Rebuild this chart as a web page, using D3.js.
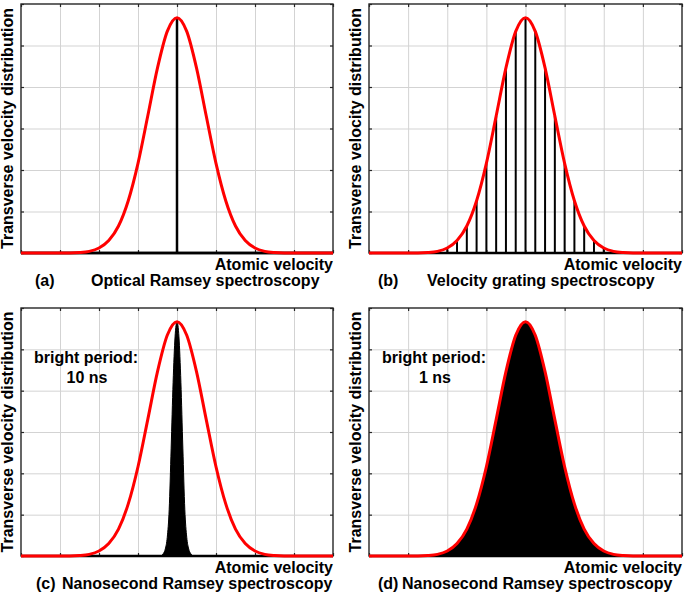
<!doctype html>
<html>
<head>
<meta charset="utf-8">
<script src="https://cdnjs.cloudflare.com/ajax/libs/d3/7.8.5/d3.min.js"></script>
<style>
  body{margin:0;background:#fff}
  svg{display:block;background:white}
  text{font-family:Arial,"Liberation Sans",sans-serif;font-weight:bold;fill:#000}
</style>
</head>
<body>
<svg width="685" height="595"></svg>
<script>
// atomic velocity samples (grid units) and the transverse velocity distribution
const velocity = [-4,-3.75,-3.5,-3.25,-3,-2.75,-2.5,-2.25,-2,-1.75,-1.5,-1.25,-1,-0.75,-0.5,-0.25,0,
                  0.25,0.5,0.75,1,1.25,1.5,1.75,2,2.25,2.5,2.75,3,3.25,3.5,3.75,4];
const distribution = [0,0,0,0,0,0,0.01,0.04,0.12,0.30,0.65,1.26,2.16,3.30,4.46,5.34,5.67,
                      5.34,4.46,3.30,2.16,1.26,0.65,0.30,0.12,0.04,0.01,0,0,0,0,0,0];

// (a) single velocity class
const ramseyX = [-4, 0, 0, 0, 4];
const ramseyY = [0, 0, 5.67, 0, 0];

// (c) narrow velocity class, 10 ns bright period
const narrowX = [-0.45,-0.4,-0.35,-0.3,-0.25,-0.2,-0.15,-0.1,-0.05,0,0.05,0.1,0.15,0.2,0.25,0.3,0.35,0.4,0.45];
const narrowY = [0,0.01,0.06,0.17,0.45,1.13,2.61,4.20,5.30,5.67,5.30,4.20,2.61,1.13,0.45,0.17,0.06,0.01,0];

const xTicks = [-4,-3,-2,-1,0,1,2,3,4];
const yTicks = [0,1,2,3,4,5,6];

const panelLabels = ["(a)", "(b)", "(c)", "(d)"];
const panelTitles = ["Optical Ramsey spectroscopy", "Velocity grating spectroscopy",
                     "Nanosecond Ramsey spectroscopy", "Nanosecond Ramsey spectroscopy"];
const periodLabels = [null, null, "10 ns", "1 ns"];

const svg = d3.select("svg");

const boxes = [
  {x0:21,  x1:333, y0:4,   y1:253, lab:35,  tit:91},
  {x0:369, x1:682, y0:4,   y1:253, lab:378, tit:427},
  {x0:21,  x1:333, y0:308, y1:556, lab:36,  tit:62},
  {x0:369, x1:682, y0:308, y1:556, lab:378, tit:402}
];

boxes.forEach((b, i) => {
  const g = svg.append("g");
  const x = d3.scaleLinear().domain([-4, 4]).range([b.x0, b.x1]);
  const y = d3.scaleLinear().domain([0, 6]).range([b.y1, b.y0]);
  const w = b.x1 - b.x0, h = b.y1 - b.y0;

  // grid
  const gx = g.append("g").attr("transform", `translate(0,${b.y1})`)
    .call(d3.axisBottom(x).tickValues(xTicks.slice(1, -1)).tickSize(-h).tickFormat(""));
  const gy = g.append("g").attr("transform", `translate(${b.x0},0)`)
    .call(d3.axisLeft(y).tickValues(yTicks.slice(1, -1)).tickSize(-w).tickFormat(""));
  [gx, gy].forEach(s => {
    s.select(".domain").remove();
    s.selectAll("line").attr("stroke", "#d3d3d3").attr("stroke-width", 1);
  });

  // inward ticks on all four sides
  const tk = [
    [d3.axisBottom(x).tickValues(xTicks), `translate(0,${b.y1})`],
    [d3.axisTop(x).tickValues(xTicks), `translate(0,${b.y0})`],
    [d3.axisLeft(y).tickValues(yTicks), `translate(${b.x0},0)`],
    [d3.axisRight(y).tickValues(yTicks), `translate(${b.x1},0)`]
  ];
  tk.forEach(([ax, tr]) => {
    const s = g.append("g").attr("transform", tr).call(ax.tickSize(-3).tickFormat(""));
    s.select(".domain").remove();
    s.selectAll("line").attr("stroke", "#262626").attr("stroke-width", 1.2);
  });

  g.append("rect").attr("x", b.x0).attr("y", b.y0).attr("width", w).attr("height", h)
    .attr("fill", "none").attr("stroke", "#262626").attr("stroke-width", 1.4);

  const line = d3.line().x(d => x(d[0])).y(d => y(d[1]));
  const smooth = d3.line().x(d => x(d[0])).y(d => y(d[1])).curve(d3.curveMonotoneX);
  const pts = velocity.map((v, k) => [v, distribution[k]]);

  // black signal
  g.append("path").datum([[-4, 0], [4, 0]]).attr("d", line)
    .attr("stroke", "#000").attr("stroke-width", 2.5).attr("fill", "none");

  if (i === 0) {
    g.append("path").datum(ramseyX.map((v, k) => [v, ramseyY[k]])).attr("d", line)
      .attr("stroke", "#000").attr("stroke-width", 2.5).attr("fill", "none");
  } else if (i === 1) {
    g.selectAll("line.stem").data(pts.filter(d => d[1] > 0)).enter().append("line")
      .attr("class", "stem")
      .attr("x1", d => x(d[0])).attr("x2", d => x(d[0]))
      .attr("y1", y(0)).attr("y2", d => y(d[1]))
      .attr("stroke", "#000").attr("stroke-width", 2);
  } else if (i === 2) {
    const area = d3.area().x(d => x(d[0])).y0(y(0)).y1(d => y(d[1])).curve(d3.curveMonotoneX);
    g.append("path").datum(narrowX.map((v, k) => [v, narrowY[k]])).attr("d", area)
      .attr("fill", "#000").attr("stroke", "#000").attr("stroke-width", 1);
  } else {
    const area = d3.area().x(d => x(d[0])).y0(y(0)).y1(d => y(d[1])).curve(d3.curveMonotoneX);
    g.append("path").datum(pts).attr("d", area).attr("fill", "#000");
  }

  // red distribution
  g.append("path").datum(pts).attr("d", smooth)
    .attr("stroke", "#ff0000").attr("stroke-width", 3).attr("fill", "none");

  // texts
  g.append("text").attr("transform", `translate(${b.x0 - 8},${(b.y0 + b.y1) / 2}) rotate(-90)`)
    .attr("text-anchor", "middle").attr("font-size", 16).text("Transverse velocity distribution");
  g.append("text").attr("x", b.x1).attr("y", b.y1 + 17).attr("text-anchor", "end")
    .attr("font-size", 16).text("Atomic velocity");
  g.append("text").attr("x", b.lab).attr("y", b.y1 + 33).attr("font-size", 16).text(panelLabels[i]);
  g.append("text").attr("x", b.tit).attr("y", b.y1 + 33).attr("font-size", 16).text(panelTitles[i]);

  if (periodLabels[i]) {
    const cx = b.x0 + 65;
    g.append("text").attr("x", cx).attr("y", b.y0 + 55).attr("text-anchor", "middle")
      .attr("font-size", 16).text("bright period:");
    g.append("text").attr("x", cx + 1).attr("y", b.y0 + 75).attr("text-anchor", "middle")
      .attr("font-size", 16).text(periodLabels[i]);
  }
});
</script>
</body>
</html>
